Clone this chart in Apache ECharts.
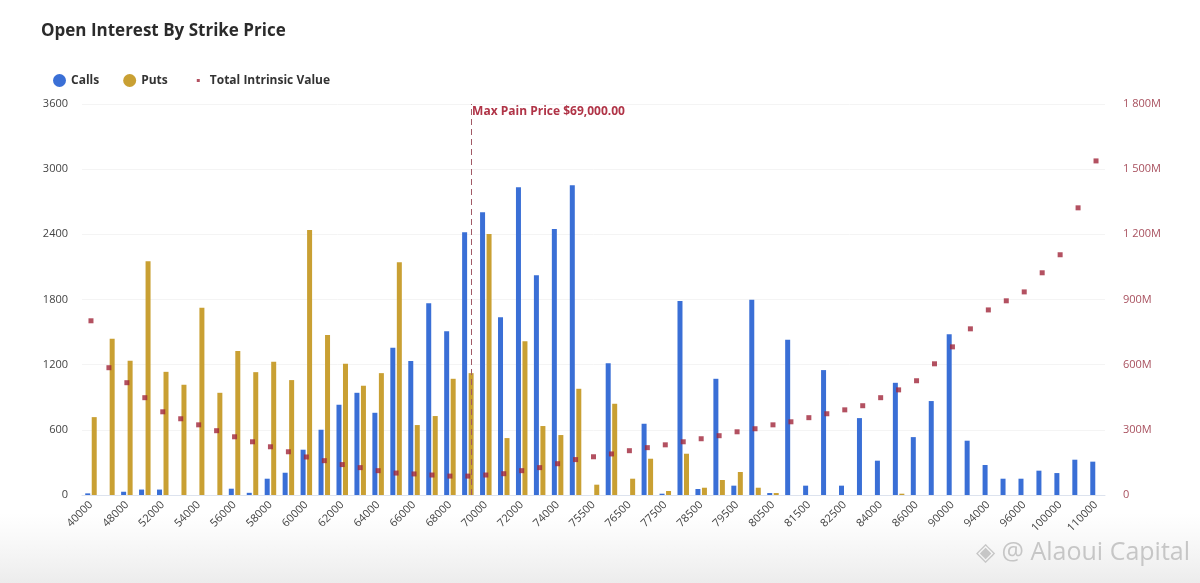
<!DOCTYPE html>
<html>
<head>
<meta charset="utf-8">
<script src="https://cdn.jsdelivr.net/npm/echarts@6/dist/echarts.min.js"></script>
<style>
  html, body { margin: 0; padding: 0; background: #fff; }
  #chart { width: 1200px; height: 583px; }
</style>
</head>
<body>
<div id="chart"></div>
<script>
const strikes = [
  "40000", "45000", "48000", "50000", "52000", "53000", "54000", "55000", "56000", "57000",
  "58000", "59000", "60000", "61000", "62000", "63000", "64000", "65000", "66000", "67000",
  "68000", "69000", "70000", "71000", "72000", "73000", "74000", "75000", "75500", "76000",
  "76500", "77000", "77500", "78000", "78500", "79000", "79500", "80000", "80500", "81000",
  "81500", "82000", "82500", "83000", "84000", "85000", "86000", "88000", "90000", "92000",
  "94000", "95000", "96000", "98000", "100000", "105000", "110000"
];
const calls = [
  15, 0, 30, 50, 50, 0, 0, 0, 58, 20,
  150, 205, 417, 601, 831, 941, 757, 1355, 1233, 1766,
  1508, 2419, 2603, 1637, 2833, 2024, 2450, 2851, 0, 1214,
  0, 656, 12, 1787, 55, 1070, 86, 1797, 18, 1429,
  86, 1150, 86, 708, 316, 1033, 533, 865, 1481, 500,
  276, 150, 150, 224, 202, 325, 307
];
const puts = [
  717, 1438, 1236, 2152, 1134, 1015, 1723, 941, 1325, 1131,
  1226, 1058, 2440, 1472, 1208, 1006, 1122, 2143, 644, 727,
  1070, 1122, 2404, 524, 1416, 635, 552, 978, 95, 840,
  150, 334, 37, 380, 67, 138, 212, 67, 18, 0,
  0, 0, 0, 0, 0, 12, 0, 0, 0, 0,
  0, 0, 0, 0, 0, 0, 0
];
// total intrinsic value, in millions
const intrinsicM = [
  802, 586, 517, 448, 383, 351, 323, 296, 268, 245,
  222, 199, 175, 158, 140, 126, 112, 101, 97, 92,
  87, 87, 92, 98, 112, 126, 144, 163, 176, 189,
  204, 218, 231, 245, 259, 273, 291, 305, 323, 337,
  356, 374, 392, 411, 448, 484, 526, 604, 682, 765,
  852, 894, 935, 1023, 1106, 1322, 1538
];
const maxPainStrike = "69000";
const maxPainLabel = "Max Pain Price $69,000.00";

const chart = echarts.init(document.getElementById("chart"));

// 1800 -> "1 800M"
const fmtM = v => {
  if (v === 0) return "0";
  return String(v).replace(/\B(?=(\d{3})+(?!\d))/g, " ") + "M";
};

const option = {
  backgroundColor: "#fff",
  textStyle: { fontFamily: "Open Sans" },
  title: {
    text: "Open Interest By Strike Price",
    left: 36,
    top: 18,
    textStyle: { fontSize: 17, fontWeight: "bold", color: "#2b2b2b", fontFamily: "Open Sans" }
  },
  legend: {
    left: 48,
    top: 69,
    itemGap: 24,
    itemWidth: 13,
    itemHeight: 13,
    textStyle: { fontSize: 12, fontWeight: "bold", color: "#333" },
    data: [
      { name: "Calls", icon: "circle" },
      { name: "Puts", icon: "circle" },
      { name: "Total Intrinsic Value", icon: "path://M0 0M13 13M5 5H8V8H5Z" }
    ]
  },
  grid: { left: 82, right: 95, top: 104, bottom: 88, containLabel: false },
  xAxis: {
    type: "category",
    data: strikes,
    axisTick: { show: false },
    axisLine: { lineStyle: { color: "#dde3ee" } },
    axisLabel: { interval: 1, rotate: 45, fontSize: 11, color: "#444", margin: 8 }
  },
  yAxis: [
    {
      type: "value",
      min: 0,
      max: 3600,
      interval: 600,
      axisLabel: { fontSize: 11, color: "#444", margin: 14, formatter: v => String(v) },
      splitLine: { lineStyle: { color: "#f4f4f4" } }
    },
    {
      type: "value",
      min: 0,
      max: 1800,
      interval: 300,
      axisLabel: { fontSize: 11, color: "#a8505e", margin: 18, formatter: fmtM },
      splitLine: { show: false }
    }
  ],
  series: [
    {
      name: "Calls",
      type: "bar",
      data: calls,
      z: 3,
      barWidth: 5,
      barGap: "30%",
      itemStyle: { color: "#3a6fd6" }
    },
    {
      name: "Puts",
      type: "bar",
      data: puts,
      z: 2,
      barWidth: 5,
      itemStyle: { color: "#c9a033" },
      markLine: {
        silent: true,
        symbol: "none",
        animation: false,
        lineStyle: { type: [6, 4], color: "#a05a66", width: 1 },
        label: {
          show: true,
          position: "end",
          formatter: maxPainLabel,
          align: "left",
          verticalAlign: "top",
          offset: [1, 7],
          color: "#b03447",
          fontWeight: "bold",
          fontSize: 12
        },
        data: [{ xAxis: maxPainStrike }]
      }
    },
    {
      name: "Total Intrinsic Value",
      type: "scatter",
      yAxisIndex: 1,
      data: intrinsicM,
      z: 5,
      symbol: "rect",
      symbolSize: 5,
      itemStyle: { color: "#a0263a" }
    }
  ],
  graphic: [
    {
      type: "rect",
      left: 0,
      bottom: 0,
      z: -10,
      shape: { width: 1200, height: 70 },
      style: {
        fill: new echarts.graphic.LinearGradient(0, 0, 0, 1, [
          { offset: 0, color: "rgba(240,240,240,0)" },
          { offset: 1, color: "rgba(236,236,236,1)" }
        ])
      }
    },
    {
      type: "text",
      right: 10,
      top: 540,
      style: { text: "◈ @ Alaoui Capital", fontSize: 25, fill: "#c6c6c6", fontFamily: "Open Sans" }
    }
  ]
};

chart.setOption(option);
</script>
</body>
</html>
